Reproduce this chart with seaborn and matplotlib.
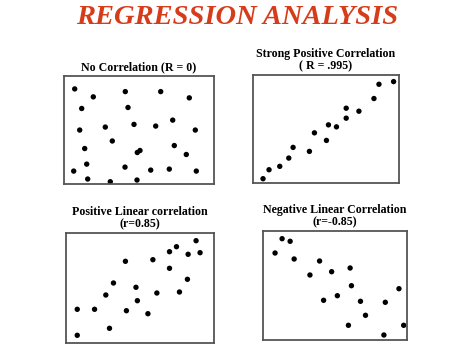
import matplotlib
matplotlib.use("Agg")
import matplotlib.pyplot as plt
import seaborn as sns
import pandas as pd

# ---- data ----
nocorr_x = [10.7, 29.3, 61.3, 96.7, 125.3, 17.7, 64, 15.7, 41.3, 70, 91.7, 108.7, 131.3, 48.3,
            20.7, 73.3, 76, 110.3, 122.3, 22.7, 61, 86.7, 105.3, 9.7, 132.3, 23.7, 46.3, 73]
nocorr_y = [95.7, 87.7, 93, 93, 86.7, 76, 77, 54.3, 57.3, 60, 58.3, 64.3, 54.3, 43.3,
            35.7, 31.7, 33.7, 38.7, 29.7, 20, 17, 14, 15, 13, 13, 5, 2.3, 4]

strong_x = [10, 16, 26.7, 35.7, 40, 56.3, 61.3, 73.3, 75.3, 83.3, 93, 93, 105.7, 120.7, 125.7, 140.3]
strong_y = [4.3, 13.3, 16.7, 25, 35.7, 31.7, 50.3, 42.7, 58.3, 56.3, 75, 65, 72, 84.7, 99, 101.7]

pos_x = [11.3, 28.7, 40, 47.7, 59.7, 70.3, 71.7, 60.7, 43.7, 11.3, 82.3, 87.3, 91.3, 104, 104,
         111, 114, 122, 122.7, 130.7, 134.7]
pos_y = [33.7, 33.7, 48, 60, 81.7, 55.7, 42.3, 32.3, 14.7, 7.7, 29.3, 83.3, 50, 91.3, 74.7,
         96.3, 51, 63.7, 88.7, 102.3, 90.3]

neg_x = [19, 27, 12, 31, 56.3, 46.7, 68.3, 86.7, 88, 60.3, 74, 97, 102, 85, 121.7, 135.3, 140, 120.3]
neg_y = [101.3, 98.7, 87, 81, 79, 65, 68.3, 72, 54.3, 39.7, 44.3, 38.7, 24.7, 14.7, 37.7, 51.3, 14.7, 5]

main_title = "REGRESSION ANALYSIS"
titles = ["No Correlation (R = 0)",
          "Strong Positive Correlation\n( R = .995)",
          "Positive Linear correlation\n(r=0.85)",
          "Negative Linear Correlation\n(r=-0.85)"]

W, H = 474, 355
fig = plt.figure(figsize=(W / 100, H / 100), dpi=100)
fig.patch.set_facecolor("white")

def px_axes(x0, y0, x1, y1):
    return fig.add_axes([x0 / W, 1 - y1 / H, (x1 - x0) / W, (y1 - y0) / H])

panels = [
    (px_axes(64, 76, 214, 184), nocorr_x, nocorr_y, 150, 108.7, titles[0]),
    (px_axes(253, 75, 399, 183), strong_x, strong_y, 145.7, 108.3, titles[1]),
    (px_axes(66, 233, 214, 343), pos_x, pos_y, 148.7, 110, titles[2]),
    (px_axes(263, 231, 407, 340), neg_x, neg_y, 143.3, 109, titles[3]),
]

for ax, xs, ys, xm, ym, t in panels:
    df = pd.DataFrame({"x": xs, "y": ys})
    sns.scatterplot(data=df, x="x", y="y", ax=ax, color="black", s=15, edgecolor="none")
    ax.set_xlim(0, xm)
    ax.set_ylim(0, ym)
    ax.set_xticks([])
    ax.set_yticks([])
    ax.set_xlabel("")
    ax.set_ylabel("")
    for sp in ax.spines.values():
        sp.set_color("#555555")
        sp.set_linewidth(1.3)
    ax.set_title(t, fontfamily="Liberation Serif", fontweight="bold", fontsize=8.6,
                 linespacing=1.05, pad=4)

fig.text(0.5, 1 - 18 / H, main_title, ha="center", va="center",
         fontfamily="Liberation Serif", fontweight="bold", fontstyle="italic",
         fontsize=20.5, color="#d63c1a")

fig.savefig("out.png", dpi=100, facecolor="white")
